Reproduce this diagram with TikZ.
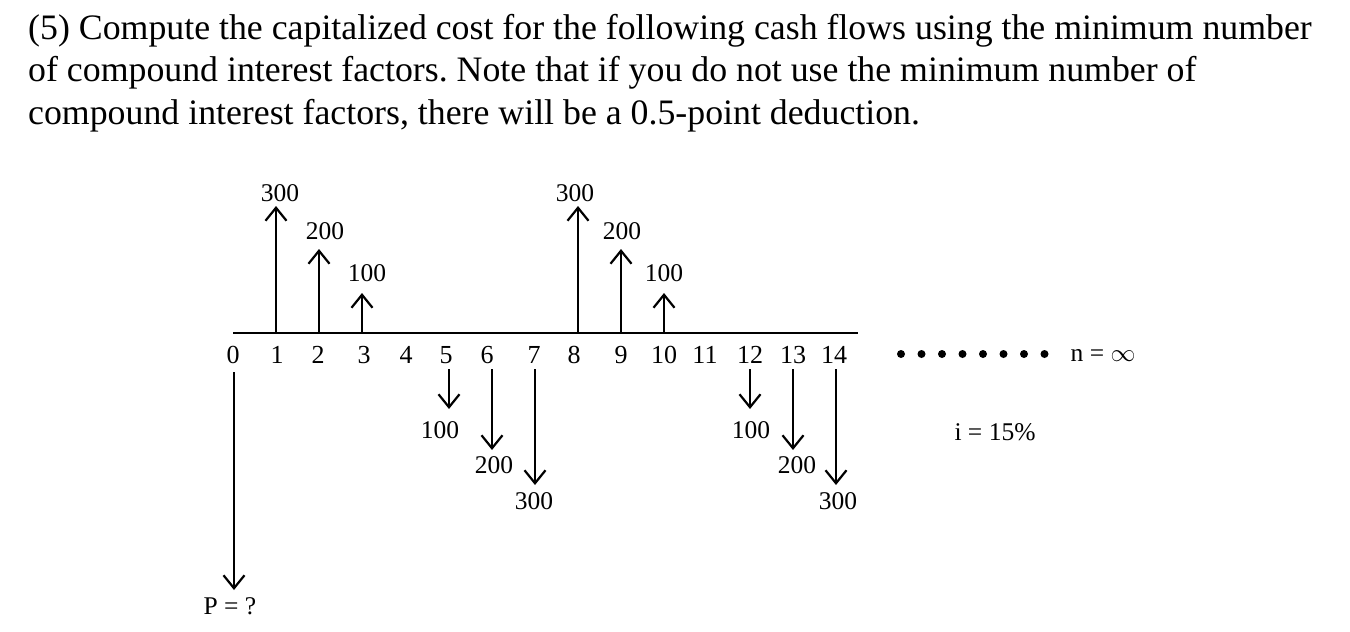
\documentclass[tikz,border=0pt]{standalone}
\usepackage{fontspec}
\setmainfont{Liberation Serif}
\usetikzlibrary{arrows.meta}
\begin{document}
\frenchspacing
\begin{tikzpicture}[x=1pt,y=-1pt,
  flow/.style={line width=2.2pt,-{Straight Barb[length=13pt,width=21pt,line width=2.2pt]}},
  lab/.style={font=\fontsize{25.5}{26}\selectfont,inner sep=0pt},
  tick/.style={font=\fontsize{26}{26}\selectfont,inner sep=0pt}]
\useasboundingbox (0,0) rectangle (1350,632);
\node[anchor=north west,align=left,inner sep=0pt,font=\fontsize{35.8}{42.5}\selectfont] (title) at (28,14)
{(5) Compute the capitalized cost for the following cash flows using the minimum number\\
of compound interest factors. Note that if you do not use the minimum number of\\
compound interest factors, there will be a 0.5-point deduction.};
\coordinate (a0) at (233,333); \coordinate (a1) at (858,333);
\draw[line width=2.2pt] (a0) -- (a1);
\foreach \n/\x in {0/233,1/277,2/318,3/364,4/406,5/446,6/487,7/534,8/574,9/621,10/664,11/705,12/750,13/793,14/834}
  \node[tick] (t\n) at (\x,355) {\n};
% up flows
\foreach \k/\x/\top/\ly in {a/276/206/195,b/319/249/232,c/362/293/274,d/578/206/195,e/621/249/232,f/664/293/274}{
  \coordinate (u\k) at (\x,333); \coordinate (v\k) at (\x,\top);
  \draw[flow] (u\k) -- (v\k);}
\node[lab] (l300a) at (280,193) {300};
\node[lab] (l200a) at (325,231) {200};
\node[lab] (l100a) at (367,273) {100};
\node[lab] (l300b) at (575,193) {300};
\node[lab] (l200b) at (622,231) {200};
\node[lab] (l100b) at (664,273) {100};
% down flows
\foreach \k/\x/\bot in {g/449/409,h/492/450,i/535/485,j/750/409,k/793/450,l/836/485}{
  \coordinate (s\k) at (\x,369); \coordinate (e\k) at (\x,\bot);
  \draw[flow] (s\k) -- (e\k);}
\node[lab] (d100a) at (440,430) {100};
\node[lab] (d200a) at (494,465) {200};
\node[lab] (d300a) at (534,501) {300};
\node[lab] (d100b) at (751,430) {100};
\node[lab] (d200b) at (797,465) {200};
\node[lab] (d300b) at (838,501) {300};
% P
\coordinate (p0) at (234,372); \coordinate (p1) at (234,590);
\draw[flow] (p0) -- (p1);
\node[lab] (P) at (230,606) {P = ?};
\foreach \i in {0,...,7} \fill (901+\i*20.5,354) circle (4pt);
\node[lab] (n) at (1103,355) {n = $\infty$};
\node[lab] (i) at (995,432) {i = 15\%};
\end{tikzpicture}
\end{document}
